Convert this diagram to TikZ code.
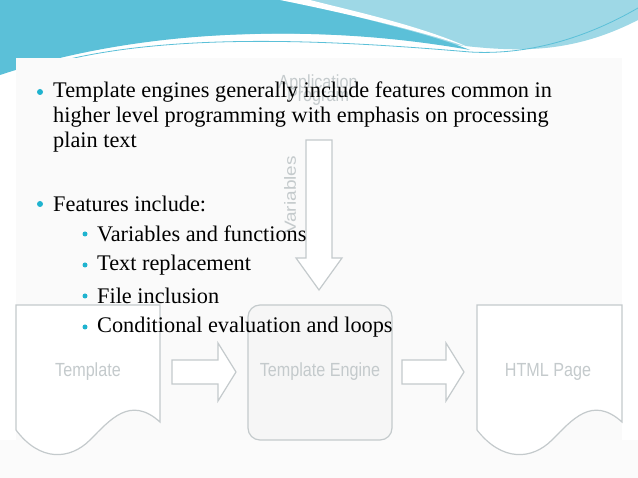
\documentclass[tikz,border=0pt]{standalone}
\usepackage{fontspec}
\setmainfont{Liberation Serif}
\newfontfamily\diagfont{Liberation Sans}
\usetikzlibrary{arrows.meta}
\definecolor{teal1}{HTML}{5BC0D8}
\definecolor{teal2}{HTML}{9ED8E6}
\definecolor{faint}{HTML}{C4CACC}
\definecolor{bul}{HTML}{1FB3CF}
\tikzset{
  docshape/.style={draw=faint,line width=1.2pt,fill=white},
  faintlabel/.style={text=faint,font=\diagfont\fontsize{19}{19}\selectfont,xscale=0.85},
  bigarrow/.style={draw=faint,line width=1.2pt,fill=white},
  txt/.style={anchor=west,inner sep=0pt,font=\fontsize{22.3}{24}\selectfont,text=black},
  dot/.style={circle,fill=bul,inner sep=0pt,minimum size=6pt},
  sdot/.style={circle,fill=bul,inner sep=0pt,minimum size=5pt}
}
\begin{document}
\begin{tikzpicture}[x=1pt,y=-1pt]
\useasboundingbox (0,0) rectangle (638,478);
\fill[white] (0,0) rectangle (638,478);
% header wave
\fill[teal2] (0,0) -- (638,0) -- (638,20) .. controls (560,60) and (500,50) .. (430,42) .. controls (330,30) and (150,25) .. (0,70) -- cycle;
\fill[teal1] (0,0) -- (300,0) .. controls (340,15) and (420,30) .. (470,50) .. controls (330,25) and (150,25) .. (0,75) -- cycle;
\fill[white] (280,0) .. controls (330,10) and (420,30) .. (470,48) .. controls (420,25) and (340,8) .. (310,0) -- cycle;
\draw[teal1,line width=0.8pt] (30,70) .. controls (150,30) and (330,40) .. (470,52) .. controls (540,56) and (600,30) .. (638,8);
\fill[white!96!gray] (16,58) rectangle (622,440);
\fill[white!97!gray] (0,440) rectangle (638,478);
% faint diagram
\node[faintlabel,align=center] (app) at (318,90) {Application\\[-6pt]Program};
\draw[bigarrow] (306,140) -- (332,140) -- (332,258) -- (342,258) -- (319,290) -- (296,258) -- (306,258) -- cycle;
\node[faintlabel,rotate=90] (var) at (290,195) {Variables};
\draw[docshape] (16,305) -- (160,305) -- (160,422) .. controls (130,395) and (110,420) .. (90,440) .. controls (70,460) and (40,462) .. (16,430) -- cycle;
\node[faintlabel] (tpl) at (88,372) {Template};
\draw[bigarrow] (172,360) -- (218,360) -- (218,343) -- (236,372) -- (218,401) -- (218,384) -- (172,384) -- cycle;
\draw[docshape,fill=white!93!gray,rounded corners=12pt] (248,305) rectangle (392,440);
\node[faintlabel] (eng) at (320,372) {Template Engine};
\draw[bigarrow] (402,360) -- (446,360) -- (446,343) -- (464,372) -- (446,401) -- (446,384) -- (402,384) -- cycle;
\draw[docshape] (477,305) -- (622,305) -- (622,422) .. controls (592,395) and (572,420) .. (552,440) .. controls (532,460) and (502,462) .. (477,430) -- cycle;
\node[faintlabel] (html) at (548,372) {HTML Page};
% bullets
\node[dot] (b1) at (40,92) {};
\node[txt] (t1) at (53,92) {Template engines generally include features common in};
\node[txt] (t2) at (53,117) {higher level programming with emphasis on processing};
\node[txt] (t3) at (53,142) {plain text};
\node[dot] (b2) at (40,204) {};
\node[txt] (t4) at (53,204) {Features include:};
\node[sdot] (s1) at (85,234) {};
\node[txt] (u1) at (97,234) {Variables and functions};
\node[sdot] (s2) at (85,265) {};
\node[txt] (u2) at (97,265) {Text replacement};
\node[sdot] (s3) at (85,296) {};
\node[txt] (u3) at (97,296) {File inclusion};
\node[sdot] (s4) at (85,327) {};
\node[txt] (u4) at (97,327) {Conditional evaluation and loops};
\end{tikzpicture}
\end{document}
